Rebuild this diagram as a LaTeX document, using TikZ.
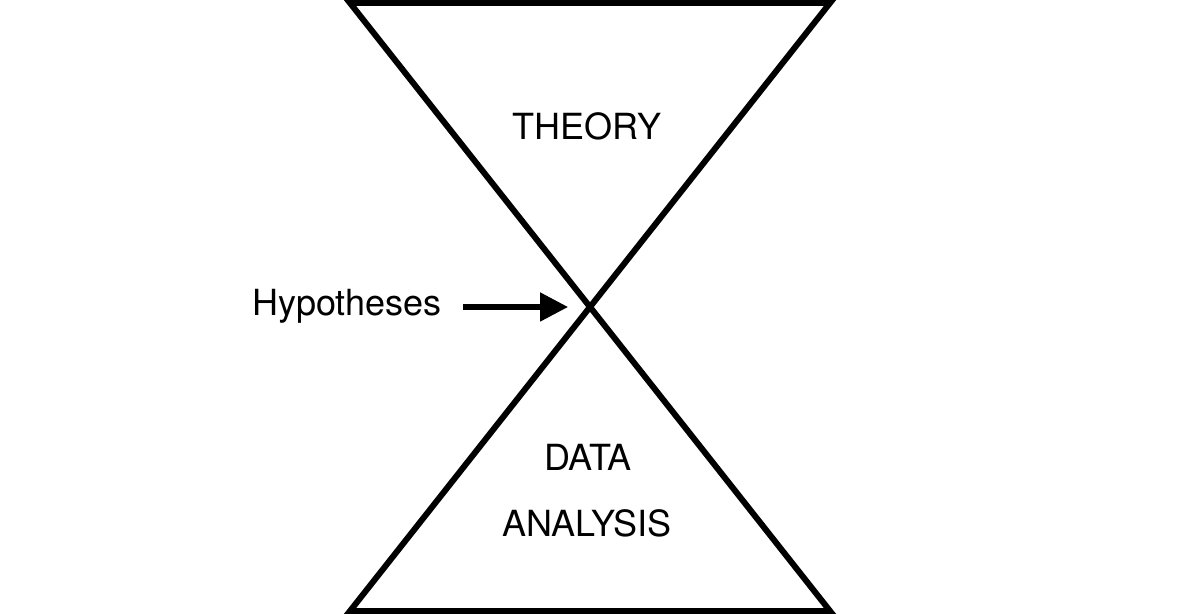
\documentclass[tikz,border=0pt]{standalone}
\usepackage{fontspec}
\setmainfont{TeX Gyre Heros}
\usetikzlibrary{arrows.meta}
\begin{document}
\begin{tikzpicture}[x=0.5pt,y=-0.5pt,
  lbl/.style={font=\fontsize{18}{22}\selectfont, inner sep=0pt}]
\useasboundingbox (0,0) rectangle (1200,614);
\coordinate (tl) at (350,3);
\coordinate (tr) at (830,3);
\coordinate (bl) at (350,611);
\coordinate (br) at (830,611);
\draw[line width=3pt, line join=miter] (tl) -- (tr) -- (bl) -- (br) -- cycle;
\node[lbl] (theory) at (587,126) {THEORY};
\node[lbl] (data) at (588,457) {DATA};
\node[lbl] (analysis) at (587,523) {ANALYSIS};
\node[lbl, anchor=east] (hyp) at (442,306) {Hypotheses};
\coordinate (as) at (463,307);
\coordinate (ae) at (568,307);
\draw[line width=2.6pt, -{Triangle[length=14pt,width=14pt]}] (as) -- (ae);
\end{tikzpicture}
\end{document}
